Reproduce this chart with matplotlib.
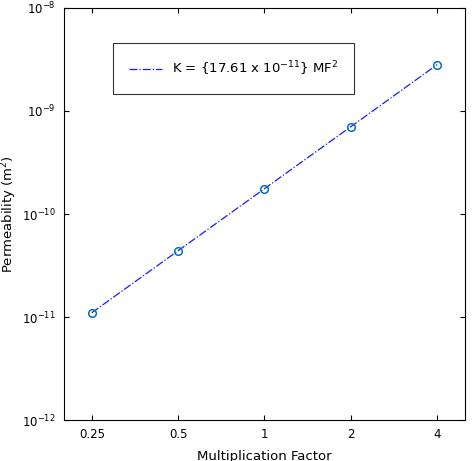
import matplotlib
matplotlib.use("Agg")
import matplotlib.pyplot as plt

mf = [0.25, 0.5, 1, 2, 4]
perm = [1.1e-11, 4.4e-11, 1.761e-10, 7.04e-10, 2.82e-9]
xticklabels = ["0.25", "0.5", "1", "2", "4"]

fig = plt.figure(figsize=(4.74, 4.61), dpi=100)
ax = fig.add_axes([64/474, 1-420/461, (465-64)/474, (420-8)/461])
ax.plot(mf, perm, linestyle="-.", color="#1a1aff", linewidth=0.9,
        label=r"K = {17.61 x 10$^{-11}$} MF$^2$")
ax.plot(mf, perm, linestyle="none", marker="o", markersize=5.5,
        markerfacecolor="none", markeredgecolor="#0072bd", markeredgewidth=1.1)
ax.set_xscale("log", base=2)
ax.set_yscale("log")
ax.set_xlim(0.2, 5)
ax.set_ylim(1e-12, 1e-8)
ax.set_xticks(mf)
ax.set_xticklabels(xticklabels)
ax.minorticks_off()
ax.tick_params(direction="in", labelsize=8.5, top=True, right=True, pad=6)
ax.set_xlabel("Multiplication Factor", fontsize=9.5, labelpad=6)
ax.set_ylabel(r"Permeability (m$^2$)", fontsize=9.5, labelpad=2)
leg = ax.legend(loc="upper left", bbox_to_anchor=(0.105, 0.93), fontsize=9.5,
                fancybox=False, edgecolor="black", borderpad=1.2, handlelength=2.5)
leg.get_frame().set_linewidth(0.8)
fig.savefig("out.png", dpi=100)
